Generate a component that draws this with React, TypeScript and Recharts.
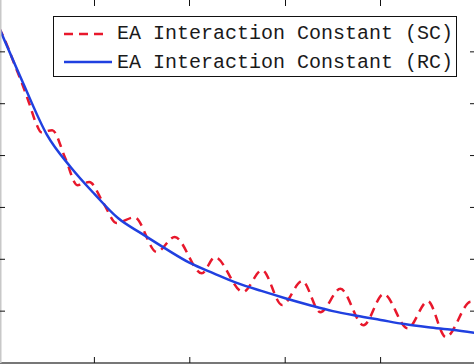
import { LineChart, Line, XAxis, YAxis, Legend } from "recharts"

// axis ticks (no labels in the crop, only tick marks)
const X_TICKS = [1, 2, 3, 4]
const Y_TICKS = [1, 2, 3, 4, 5, 6]
const X_MAX = 5
const Y_MAX = 7

const SC_NAME = "EA Interaction Constant (SC)"
const RC_NAME = "EA Interaction Constant (RC)"

// RC: smooth decay
const rcX = [0, 0.25, 0.5, 0.75, 1.0, 1.25, 1.5, 1.75, 2.0, 2.25, 2.5, 2.75, 3.0, 3.25, 3.5, 3.75, 4.0, 4.25, 4.5, 4.75, 5.0]
const rcY = [6.47, 5.41, 4.41, 3.78, 3.26, 2.79, 2.49, 2.2, 1.93, 1.73, 1.54, 1.39, 1.25, 1.12, 1.0, 0.91, 0.83, 0.75, 0.69, 0.64, 0.58]

// SC: oscillating around the RC curve
const scX = [0, 0.084, 0.158, 0.242, 0.316, 0.389, 0.442, 0.558, 0.695, 0.821, 0.947, 1.095, 1.232, 1.421, 1.653, 1.842, 2.126, 2.263, 2.558, 2.758, 2.968, 3.179, 3.368, 3.579, 3.821, 4.032, 4.284, 4.495, 4.684, 4.947, 4.99]
const scY = [6.47, 6.13, 5.78, 5.39, 5.01, 4.62, 4.45, 4.49, 3.95, 3.43, 3.49, 3.08, 2.7, 2.81, 2.14, 2.43, 1.73, 2.04, 1.37, 1.79, 1.12, 1.58, 0.98, 1.43, 0.73, 1.33, 0.67, 1.19, 0.5, 1.18, 1.12]

const RED = "#e8182c"
const BLUE = "#2040e0"

const rcData = rcX.map((x, i) => ({ x, y: rcY[i] }))
const scData = scX.map((x, i) => ({ x, y: scY[i] }))

// chart geometry (mirrored axes take no space)
const CHART_W = 476
const CHART_H = 364
const MARGIN = { top: 0, right: 0, bottom: 1, left: -1 }
const PLOT_W = CHART_W - MARGIN.left - MARGIN.right

// tick marks only, no labels
const noLabel = () => <g />

function LegendBox() {
  const font = "'Liberation Mono', 'Courier New', monospace"
  return (
    <div
      style={{
        position: "relative",
        width: 404,
        height: 61,
        boxSizing: "border-box",
        border: "1.5px solid #111",
        background: "#fff",
        fontFamily: font,
        fontSize: 20,
        lineHeight: "20px",
        color: "#1a1a1a",
      }}
    >
      <svg width={60} height={61} style={{ position: "absolute", left: 0, top: 0 }}>
        <line x1={10} x2={54} y1={17} y2={17} stroke={RED} strokeWidth={2.5} strokeDasharray="9 6" />
        <line x1={10} x2={58} y1={45} y2={45} stroke={BLUE} strokeWidth={2.5} />
      </svg>
      <span style={{ position: "absolute", left: 63, top: 7, whiteSpace: "pre" }}>{SC_NAME}</span>
      <span style={{ position: "absolute", left: 63, top: 36, whiteSpace: "pre" }}>{RC_NAME}</span>
    </div>
  )
}

export default function App() {
  return (
    <div style={{ position: "absolute", left: 0, top: 0, width: 474, height: 364, overflow: "hidden", background: "#fff" }}>
      <LineChart width={CHART_W} height={CHART_H} margin={MARGIN}>
        <XAxis
          xAxisId="b"
          type="number"
          dataKey="x"
          domain={[0, X_MAX]}
          ticks={X_TICKS}
          allowDataOverflow
          orientation="bottom"
          height={1}
          mirror
          tick={noLabel}
          tickSize={6}
          tickLine={{ stroke: "#111" }}
          axisLine={{ stroke: "#777", strokeWidth: 2 }}
        />
        <YAxis
          yAxisId="l"
          type="number"
          domain={[0, Y_MAX]}
          ticks={Y_TICKS}
          allowDataOverflow
          orientation="left"
          width={1}
          mirror
          tick={noLabel}
          tickSize={6}
          tickLine={{ stroke: "#111" }}
          axisLine={{ stroke: "#c8c8c8", strokeWidth: 5 }}
        />
        <YAxis
          yAxisId="r"
          type="number"
          domain={[0, Y_MAX]}
          ticks={Y_TICKS}
          allowDataOverflow
          orientation="right"
          width={1}
          mirror
          tick={noLabel}
          tickSize={6}
          tickLine={{ stroke: "#111" }}
          axisLine={false}
        />
        <Line
          xAxisId="b"
          yAxisId="l"
          data={scData}
          dataKey="y"
          name={SC_NAME}
          type="monotone"
          stroke={RED}
          strokeWidth={2.5}
          strokeDasharray="9 6"
          dot={false}
          activeDot={false}
          isAnimationActive={false}
        />
        <Line
          xAxisId="b"
          yAxisId="l"
          data={rcData}
          dataKey="y"
          name={RC_NAME}
          type="monotone"
          stroke={BLUE}
          strokeWidth={2.5}
          dot={false}
          activeDot={false}
          isAnimationActive={false}
        />
        <Legend
          layout="vertical"
          align="center"
          verticalAlign="middle"
          content={() => <LegendBox />}
          wrapperStyle={{ left: 53, top: 16, width: "auto", height: "auto" }}
        />
      </LineChart>
      {/* top box ticks */}
      {X_TICKS.map((t) => (
        <div
          key={t}
          style={{
            position: "absolute",
            left: MARGIN.left + (t / X_MAX) * PLOT_W - 0.5,
            top: 0,
            width: 1,
            height: 6,
            background: "#111",
            zIndex: 5,
          }}
        />
      ))}
    </div>
  )
}
